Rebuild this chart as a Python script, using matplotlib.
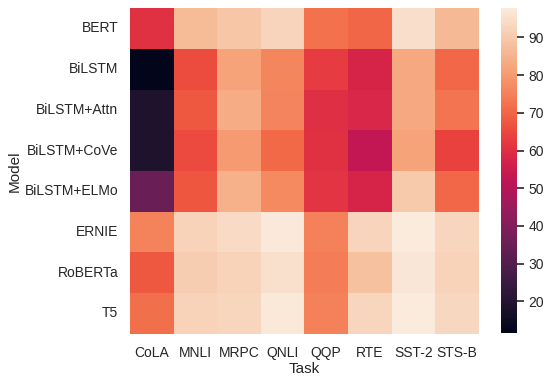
import numpy as np
import pandas as pd
import matplotlib
matplotlib.use("Agg")
import matplotlib.pyplot as plt
import seaborn as sns

models = ["BERT", "BiLSTM", "BiLSTM+Attn", "BiLSTM+CoVe", "BiLSTM+ELMo",
          "ERNIE", "RoBERTa", "T5"]
tasks = ["CoLA", "MNLI", "MRPC", "QNLI", "QQP", "RTE", "SST-2", "STS-B"]

bert = [60.5, 86.7, 89.3, 92.7, 72.1, 70.1, 94.9, 86.5]
bilstm = [11.6, 65.6, 81.8, 76.0, 62.5, 57.4, 82.8, 70.3]
bilstm_attn = [18.6, 67.6, 83.9, 75.8, 60.1, 58.4, 83.0, 72.8]
bilstm_cove = [18.5, 65.4, 80.0, 70.8, 60.5, 52.7, 81.7, 64.0]
bilstm_elmo = [35.0, 67.2, 84.9, 76.6, 61.1, 57.4, 90.2, 70.3]
ernie = [75.5, 92.3, 93.9, 97.3, 75.2, 92.6, 97.8, 93.0]
roberta = [67.8, 90.8, 92.3, 95.4, 74.3, 88.2, 96.7, 92.2]
t5 = [71.6, 92.2, 92.8, 96.9, 75.1, 92.8, 97.5, 93.1]

df = pd.DataFrame([bert, bilstm, bilstm_attn, bilstm_cove, bilstm_elmo,
                   ernie, roberta, t5], index=models, columns=tasks)
df.index.name = "Model"
df.columns.name = "Task"

sns.set_theme(style="white")
plt.rcParams['font.family'] = ['Liberation Sans', 'DejaVu Sans']

fig = plt.figure(figsize=(5.52, 3.85), dpi=100)
ax = fig.add_axes([0.2355, 0.133, 0.632, 0.846])
cax = fig.add_axes([0.9075, 0.135, 0.0285, 0.844])

sns.heatmap(df, ax=ax, cbar_ax=cax)

ax.tick_params(axis="both", length=0, pad=8.5, labelsize=10, colors="#262626")
ax.set_xlabel("Task", fontsize=11, color="#262626", labelpad=2)
ax.set_ylabel("Model", fontsize=11, color="#262626", labelpad=2)
plt.setp(ax.get_yticklabels(), rotation=0)
plt.setp(ax.get_xticklabels(), rotation=0)

cax.tick_params(axis="y", right=True, length=5, width=1.2, labelsize=10,
                colors="#262626")

fig.savefig("out.png", dpi=100)
